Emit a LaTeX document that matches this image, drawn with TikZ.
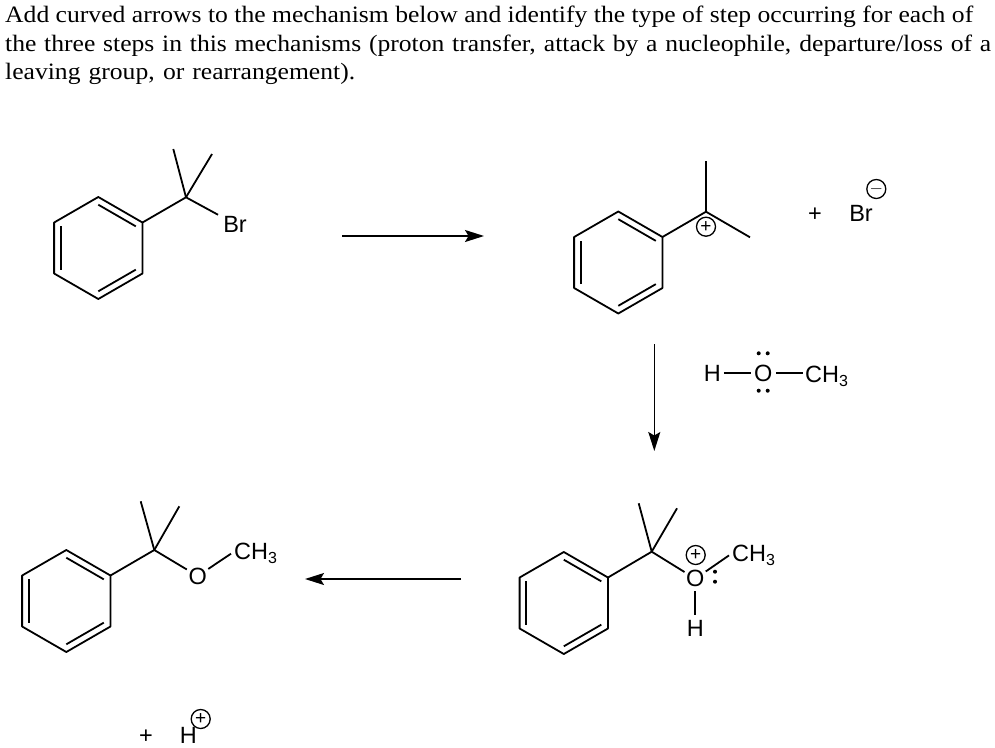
\documentclass[tikz,border=0pt]{standalone}
\usepackage{fontspec}
\setmainfont{Liberation Sans}
\newfontfamily\promptfont[FakeStretch=1.09]{Liberation Serif}
\usetikzlibrary{arrows.meta,calc}

\tikzset{
   bond/.style={line width=1.8pt},
   rxn/.style={line width=1.5pt, -{Stealth[length=19pt,width=12pt,inset=3.5pt]}},
   atom/.style={inner sep=0pt, font=\fontsize{23.5}{23.5}\selectfont},
   oxy/.style={atom, circle, minimum size=25pt},
   charge/.style={circle, draw, line width=1.3pt, minimum size=19pt, inner sep=0pt, font=\fontsize{19}{19}\selectfont},
   pair/.style={circle, fill, minimum size=4pt, inner sep=0pt},
}
\def\chthree{CH\raisebox{-4pt}{\fontsize{16}{16}\selectfont 3}}
\def\phenyl#1#2#3{
   \foreach \a/\v in {90/t,30/ur,-30/lr,-90/b,-150/ll,150/ul} {
      \coordinate (#1\v) at ($(#2,#3)+(\a:51pt)$);
      \coordinate (#1i\v) at ($(#2,#3)+(\a:43.3pt)$);
   }
   \draw[bond, line join=round] (#1t) -- (#1ur) -- (#1lr) -- (#1b) -- (#1ll) -- (#1ul) -- cycle;
   \draw[bond] (#1it) -- (#1iur);
   \draw[bond] (#1ilr) -- (#1ib);
   \draw[bond] (#1ill) -- (#1iul);
}

\begin{document}
\begin{tikzpicture}[x=1pt,y=-1pt]
   \useasboundingbox (0,0) rectangle (995,747);
   \node (prompt) [anchor=base west, inner sep=0pt, align=left, font=\promptfont\fontsize{23.5}{28.5}\selectfont] at (5,79.5)
      {\makebox[968pt][s]{Add curved arrows to the mechanism below and identify the type of step occurring for each of}\\
       \makebox[986pt][s]{the three steps in this mechanisms (proton transfer, attack by a nucleophile, departure/loss of a}\\
       \makebox[350pt][s]{leaving group, or rearrangement).}};

   % alkyl bromide
   \phenyl{a}{98.3}{248}
   \coordinate (ac) at (186,197.3);
   \coordinate (ame) at (173.3,149);
   \coordinate (amf) at (212,154);
   \node (abr) [atom, inner sep=5pt] at (235,224) {Br};
   \draw[bond] (aur) -- (ac);
   \draw[bond] (ac) -- (ame);
   \draw[bond] (ac) -- (amf);
   \draw[bond] (ac) -- (abr);

   % carbocation
   \phenyl{b}{618.3}{262.5}
   \coordinate (bc) at (706,211.7);
   \coordinate (bme) at (706,161);
   \coordinate (bmf) at (750,237.3);
   \draw[bond] (bur) -- (bc);
   \draw[bond] (bc) -- (bme);
   \draw[bond] (bc) -- (bmf);
   \node (bplus) [charge, fill=white] at (706,226.7) {+};
   \node (bsum) [atom] at (815,214.5) {+};
   \node (bbr) [atom] at (861,213) {Br};
   \node (bminus) [charge] at (876.3,189) {\raisebox{1pt}{$-$}};

   % methanol
   \node (mh) [atom, inner sep=3pt] at (712.3,373.3) {H};
   \node (mo) [oxy] at (763.3,373.3) {O};
   \node (mch) [atom, anchor=base west, inner sep=2pt] at (803,382) {\chthree};
   \draw[bond] (mh) -- (mo);
   \draw[bond] (mo) -- (mch.west |- mo);
   \foreach \x/\n in {758.7/a,767.7/b} {
      \node (mdt\n) [pair] at (\x,353.3) {};
      \node (mdb\n) [pair] at (\x,390.7) {};
   }

   % oxonium
   \phenyl{c}{563.8}{603}
   \coordinate (cc) at (651.7,551.7);
   \coordinate (cme) at (638.7,503.3);
   \coordinate (cmf) at (677,508.3);
   \node (co) [oxy] at (695.3,578.7) {O};
   \node (cplus) [charge] at (695.7,555) {+};
   \node (cch) [atom, anchor=base west, inner sep=3pt] at (729,561.5) {\chthree};
   \node (ch) [atom, inner sep=5pt] at (695.3,628.3) {H};
   \draw[bond] (cur) -- (cc);
   \draw[bond] (cc) -- (cme);
   \draw[bond] (cc) -- (cmf);
   \draw[bond] (cc) -- (co);
   \draw[bond] (co) -- (cch.west);
   \draw[bond] (co) -- (ch);
   \node (cda) [pair] at (715,571.7) {};
   \node (cdb) [pair] at (715,581.7) {};

   % ether
   \phenyl{d}{66.3}{601}
   \coordinate (dc) at (154.3,550);
   \coordinate (dme) at (140.7,501.3);
   \coordinate (dmf) at (179.3,506.3);
   \node (do) [oxy] at (197.7,576) {O};
   \node (dch) [atom, anchor=base west, inner sep=3pt] at (231,559.8) {\chthree};
   \draw[bond] (dur) -- (dc);
   \draw[bond] (dc) -- (dme);
   \draw[bond] (dc) -- (dmf);
   \draw[bond] (dc) -- (do);
   \draw[bond] (do) -- (dch.west);
   \node (dsum) [atom] at (146,737) {+};
   \node (dh) [atom] at (188.3,735) {H};
   \node (dplus) [charge] at (200.7,719) {+};

   % reaction arrows
   \coordinate (ra) at (342,236);
   \coordinate (rb) at (484,236);
   \coordinate (rc) at (654.3,344);
   \coordinate (rd) at (654.3,451);
   \coordinate (re) at (461,579);
   \coordinate (rf) at (305,579);
   \draw[rxn] (ra) -- (rb);
   \draw[rxn] (rc) -- (rd);
   \draw[rxn] (re) -- (rf);
\end{tikzpicture}
\end{document}
